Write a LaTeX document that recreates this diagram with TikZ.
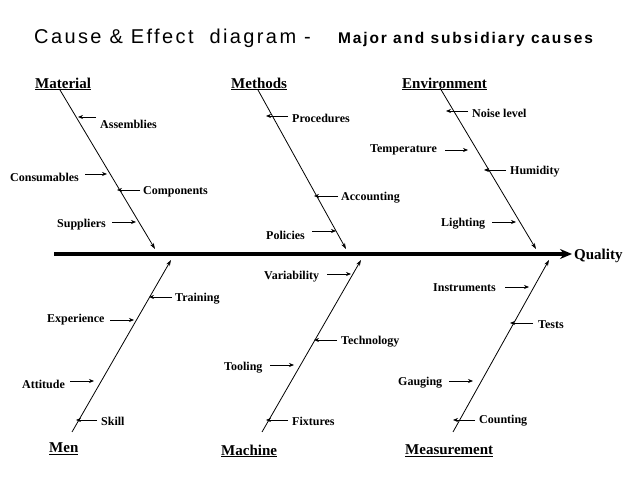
\documentclass[tikz,border=0pt]{standalone}
\usepackage{fontspec}
\setmainfont{Liberation Serif}
\newfontfamily\titlefont[LetterSpace=12]{Liberation Sans}
\newfontfamily\subfont[LetterSpace=12]{Liberation Sans}
\usetikzlibrary{arrows.meta}
\begin{document}
\begin{tikzpicture}[x=1pt,y=-1pt,
  lbl/.style={anchor=west,inner sep=0pt,font=\fontsize{12}{12}\selectfont\bfseries},
  hdr/.style={anchor=west,inner sep=0pt,font=\fontsize{15}{15}\selectfont\bfseries},
  bone/.style={line width=0.8pt,-{Stealth[length=6pt,width=4pt]}},
  sm/.style={line width=0.7pt,-{Stealth[length=5pt,width=4pt]}}]
\useasboundingbox[fill=white] (0,0) rectangle (638,478);
\node[anchor=west,inner sep=0pt,font=\titlefont\fontsize{20}{20}\selectfont] (t1) at (34,38) {Cause \& Effect\ \ diagram -};
\node[anchor=west,inner sep=0pt,font=\subfont\fontsize{15.5}{15.5}\selectfont\bfseries] (t2) at (338,39) {Major and subsidiary causes};
% spine
\coordinate (s0) at (54,254); \coordinate (s1) at (572,254);
\draw[line width=3.5pt,-{Stealth[length=12pt,width=10pt]}] (s0) -- (s1);
\node[hdr] (q) at (574,256) {Quality};
% headers
\node[hdr] (h1) at (35,84) {\underline{Material}};
\node[hdr] (h2) at (231,84) {\underline{Methods}};
\node[hdr] (h3) at (402,84) {\underline{Environment}};
\node[hdr] (h4) at (49,449) {\underline{Men}};
\node[hdr] (h5) at (221,451) {\underline{Machine}};
\node[hdr] (h6) at (405,451) {\underline{Measurement}};
% bones
\coordinate (a0) at (60,90); \coordinate (a1) at (155,249);
\coordinate (b0) at (258,90); \coordinate (b1) at (346,249);
\coordinate (c0) at (440,88); \coordinate (c1) at (536,249);
\coordinate (d0) at (72,432); \coordinate (d1) at (171,260);
\coordinate (e0) at (262,432); \coordinate (e1) at (361,260);
\coordinate (f0) at (453,432); \coordinate (f1) at (549,260);
\foreach \p/\q in {a0/a1,b0/b1,c0/c1,d0/d1,e0/e1,f0/f1} \draw[bone] (\p) -- (\q);
% labels
\node[lbl] (l1) at (100,124) {Assemblies};
\node[lbl] (l2) at (10,177) {Consumables};
\node[lbl] (l3) at (143,192) {Components};
\node[lbl] (l4) at (57,225) {Suppliers};
\node[lbl] (l5) at (292,118) {Procedures};
\node[lbl] (l6) at (341,198) {Accounting};
\node[lbl] (l7) at (266,235) {Policies};
\node[lbl] (l8) at (472,113) {Noise level};
\node[lbl] (l9) at (370,150) {Temperature};
\node[lbl] (l10) at (510,172) {Humidity};
\node[lbl] (l11) at (441,224) {Lighting};
\node[lbl] (l12) at (175,299) {Training};
\node[lbl] (l13) at (47,320) {Experience};
\node[lbl] (l14) at (22,384) {Attitude};
\node[lbl] (l15) at (101,421) {Skill};
\node[lbl] (l16) at (264,277) {Variability};
\node[lbl] (l17) at (341,342) {Technology};
\node[lbl] (l18) at (224,368) {Tooling};
\node[lbl] (l19) at (292,421) {Fixtures};
\node[lbl] (l20) at (433,288) {Instruments};
\node[lbl] (l21) at (538,325) {Tests};
\node[lbl] (l22) at (398,383) {Gauging};
\node[lbl] (l23) at (479,421) {Counting};
% small arrows
\foreach \xa/\xb/\yy [count=\i] in {
  96/78/117, 85/107/174, 140/117/190, 112/136/222,
  288/266/116, 338/314/196, 312/336/231,
  468/446/111, 445/468/150, 506/484/170, 492/516/222,
  172/149/297, 110/134/320, 70/94/381, 97/76/420,
  327/351/274, 337/314/340, 270/294/365, 288/266/420,
  505/529/287, 533/510/323, 449/473/381, 475/453/420} {
  \coordinate (u\i) at (\xa,\yy);
  \coordinate (w\i) at (\xb,\yy);
  \draw[sm] (u\i) -- (w\i);
}
\end{tikzpicture}
\end{document}
